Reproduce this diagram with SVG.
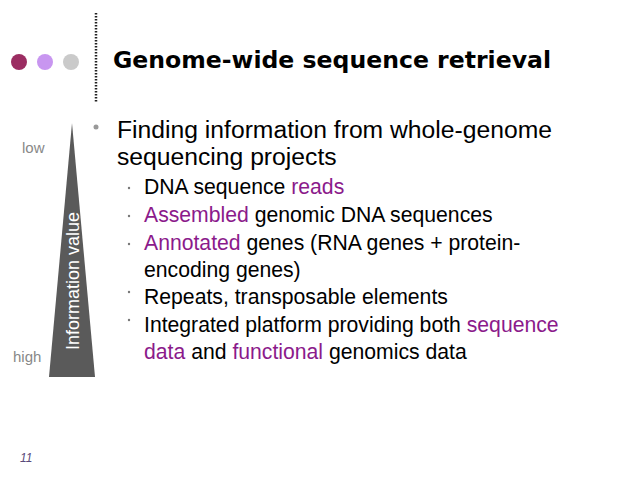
<svg xmlns="http://www.w3.org/2000/svg" width="638" height="478" viewBox="0 0 638 478">
<style>
.b{font-family:"Liberation Sans",Arial,sans-serif;fill:#000}
.p{fill:#8b1a8b}
.s{font-size:21.2px}
.d{fill:#777}
</style>
<rect width="638" height="478" fill="#fff"/>
<g id="decor">
<circle cx="19" cy="62" r="8" fill="#9b2d62"/>
<circle cx="45" cy="62" r="8" fill="#c896f0"/>
<circle cx="71" cy="62" r="8" fill="#cacaca"/>
<line x1="96" y1="13" x2="96" y2="103" stroke="#222" stroke-width="2.5" stroke-dasharray="1.5,1.5"/>
</g>
<text x="113" y="68" font-family="'DejaVu Sans',Verdana,sans-serif" font-weight="bold" font-size="23" textLength="438" lengthAdjust="spacingAndGlyphs">Genome-wide sequence retrieval</text>
<g id="scale">
<polygon points="72,123 95,377 49,377" fill="#5a5a5a"/>
<text x="79" y="281" transform="rotate(-90 79 281)" text-anchor="middle" font-family="'Liberation Sans',Arial,sans-serif" font-size="18" fill="#fff">Information value</text>
<text x="22" y="153" font-family="'Liberation Sans',Arial,sans-serif" font-size="15" fill="#888">low</text>
<text x="13" y="362" font-family="'Liberation Sans',Arial,sans-serif" font-size="15" fill="#888">high</text>
</g>
<g id="body" class="b">
<circle cx="96" cy="127" r="2.5" fill="#999"/>
<text x="117" y="138" font-size="24.7">Finding information from whole-genome</text>
<text x="117" y="165" font-size="24.7">sequencing projects</text>
<g class="d"><circle cx="129" cy="188" r="1.2"/><circle cx="129" cy="216" r="1.2"/><circle cx="129" cy="244" r="1.2"/><circle cx="129" cy="292" r="1.2"/><circle cx="129" cy="320" r="1.2"/></g>
<text class="s" x="144" y="194">DNA sequence <tspan class="p">reads</tspan></text>
<text class="s" x="144" y="222"><tspan class="p">Assembled</tspan> genomic DNA sequences</text>
<text class="s" x="144" y="250"><tspan class="p">Annotated</tspan> genes (RNA genes + protein-</text>
<text class="s" x="144" y="277">encoding genes)</text>
<text class="s" x="144" y="304">Repeats, transposable elements</text>
<text class="s" x="144" y="332">Integrated platform providing both <tspan class="p">sequence</tspan></text>
<text class="s" x="144" y="359"><tspan class="p">data</tspan> and <tspan class="p">functional</tspan> genomics data</text>
</g>
<text x="20" y="462" font-family="'Liberation Sans',Arial,sans-serif" font-style="italic" font-size="12" fill="#5a4a7a">11</text>
</svg>
